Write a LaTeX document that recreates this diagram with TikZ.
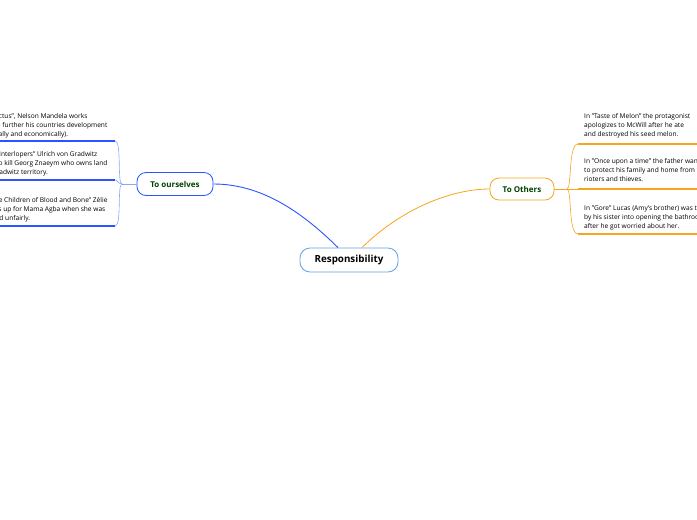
\documentclass[tikz,border=0pt]{standalone}
\usepackage{fontspec}
\setmainfont{Open Sans}
\begin{document}
\begin{tikzpicture}[x=1pt,y=-1pt,
  leaf/.style={anchor=north west,align=left,font=\fontsize{6.6}{9}\selectfont,inner sep=0pt},
  mid/.style={draw,rounded corners=9pt,line width=0.8pt,font=\fontsize{8}{9}\bfseries,text=green!25!black,minimum height=22pt},
  ln/.style={line width=1.4pt}]
\useasboundingbox (0,0) rectangle (697,520);
\clip (0,0) rectangle (697,520);
\definecolor{bl}{HTML}{2A55FF}\definecolor{lb}{HTML}{88AAF5}\definecolor{og}{HTML}{F7A41F}\definecolor{rb}{HTML}{5DA3E8}
\node[mid,draw=rb,font=\fontsize{9.8}{11}\bfseries,text=black,minimum width=98pt,minimum height=24pt,rounded corners=10pt] (root) at (349,260) {Responsibility};
\node[mid,draw=bl,minimum width=76pt,minimum height=23pt] (ours) at (175,184) {To ourselves};
\node[mid,draw=og,minimum width=64pt] (oth) at (522,189) {To Others};
\draw[bl,line width=0.9pt] ([xshift=-11pt]root.north) .. controls (300,210) and (260,184) .. (ours.east);
\draw[og,line width=0.8pt] ([xshift=13pt]root.north) .. controls (400,210) and (450,189) .. (oth.west);
% left leaves
\coordinate (lj) at (122,184);
\coordinate (l1) at (115,141); \coordinate (l2) at (115,180); \coordinate (l3) at (115,226);
\draw[lb,line width=0.6pt] (ours.west) -- (lj);
\draw[lb,line width=0.6pt] (lj) .. controls (117,184) and (122,141) .. (l1);
\draw[lb,line width=0.6pt] (lj) .. controls (118,184) and (118,180) .. (l2);
\draw[lb,line width=0.6pt] (lj) .. controls (117,184) and (122,226) .. (l3);
\draw[ln,bl] (l1) -- ++(-130,0); \draw[ln,bl] (l2) -- ++(-130,0); \draw[ln,bl] (l3) -- ++(-130,0);
\node[leaf] (t1) at (-22,113) {In "Invictus", Nelson Mandela works\\hard to further his countries development\\(politically and economically).};
\node[leaf] (t2) at (-24,151) {In "The Interlopers" Ulrich von Gradwitz\\wants to kill Georg Znaeym who owns land\\near Gradwitz territory.};
\node[leaf] (t3) at (-19,197) {In "The Children of Blood and Bone" Zélie\\stands up for Mama Agba when she was\\treated unfairly.};
% right leaves
\coordinate (rj) at (567,189);
\coordinate (r1) at (578,144); \coordinate (r2) at (578,189); \coordinate (r3) at (578,234);
\draw[og,line width=0.6pt] (oth.east) -- (rj);
\draw[og,line width=0.6pt] (rj) .. controls (572,189) and (568,144) .. (r1);
\draw[og,line width=0.6pt] (rj) -- (r2);
\draw[og,line width=0.6pt] (rj) .. controls (572,189) and (568,234) .. (r3);
\draw[ln,og] (r1) -- ++(130,0); \draw[ln,og] (r2) -- ++(130,0); \draw[ln,og] (r3) -- ++(130,0);
\node[leaf] (u1) at (584,113) {In "Taste of Melon" the protagonist\\apologizes to McWill after he ate\\and destroyed his seed melon.};
\node[leaf] (u2) at (584,158) {In "Once upon a time" the father wants\\to protect his family and home from the\\rioters and thieves.};
\node[leaf] (u3) at (584,205) {In "Gore" Lucas (Amy's brother) was tricked\\by his sister into opening the bathroom\\after he got worried about her.};
\end{tikzpicture}
\end{document}
